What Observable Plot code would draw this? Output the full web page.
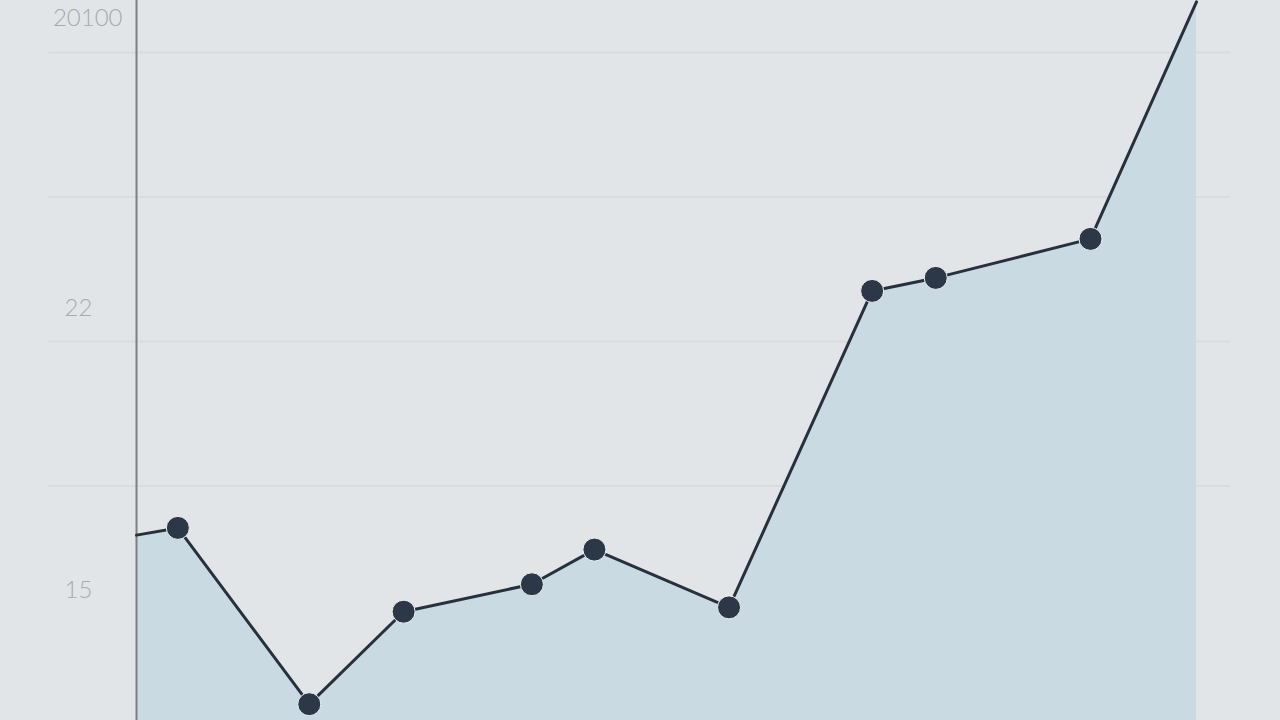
<!DOCTYPE html>
<html>
<head>
<meta charset="utf-8">
<script src="https://cdn.jsdelivr.net/npm/d3@7"></script>
<script src="https://cdn.jsdelivr.net/npm/@observablehq/plot@0.6"></script>
<style>
  html, body { margin: 0; padding: 0; background: #e2e5e7; overflow: hidden; }
  #chart svg { display: block; }
</style>
</head>
<body>
<div id="chart"></div>
<script>
// Series (x: position along period, y: value)
const xs = [0, 3.9, 16.3, 25.2, 37.3, 43.2, 55.9, 69.4, 75.4, 90, 100];
const ys = [23.3, 23.55, 17.45, 20.65, 21.6, 22.8, 20.8, 31.75, 32.2, 33.55, 41.75];
// Which points carry a marker
const marked = [false, true, true, true, true, true, true, true, true, true, false];
// Gridline values
const gridValues = [25, 30, 35, 40];
// Tick labels (as printed) and the value they sit at
const tickLabels = ["20100", "22", "15"];
const tickValues = [41.18, 31.14, 21.38];

const data = xs.map((x, i) => ({x, y: ys[i], marked: marked[i]}));
const labels = tickLabels.map((t, i) => ({t, y: tickValues[i]}));

const chart = Plot.plot({
  width: 1280,
  height: 720,
  marginTop: 52,
  marginBottom: 90,
  marginLeft: 136,
  marginRight: 84,
  style: {background: "#e2e5e7", fontFamily: "Lato, 'Open Sans', sans-serif", overflow: "hidden"},
  x: {domain: [0, 100], axis: null},
  y: {domain: [20, 40], axis: null},
  marks: [
    Plot.ruleY(gridValues, {stroke: "#d8dcde", strokeWidth: 2, x1: -8.3, x2: 103.2}),
    Plot.areaY(data, {x: "x", y1: 15, y2: "y", fill: "#c9dae2"}),
    Plot.ruleX([0], {y1: 16, y2: 42, stroke: "#7c8084", strokeWidth: 2}),
    Plot.line(data, {x: "x", y: "y", stroke: "#27313e", strokeWidth: 3}),
    Plot.dot(data.filter(d => d.marked), {x: "x", y: "y", r: 11.5, fill: "#2c3848", stroke: "#f0f2f4", strokeWidth: 1}),
    Plot.text(labels.slice(0, 1), {y: "y", text: "t", frameAnchor: "left", dx: -14, textAnchor: "end", fontSize: 24, fontWeight: 300, fill: "#a6aaae"}),
    Plot.text(labels.slice(1), {y: "y", text: "t", frameAnchor: "left", dx: -72, textAnchor: "start", fontSize: 24, fontWeight: 300, fill: "#a6aaae"})
  ]
});
document.getElementById("chart").appendChild(chart);
</script>
</body>
</html>
